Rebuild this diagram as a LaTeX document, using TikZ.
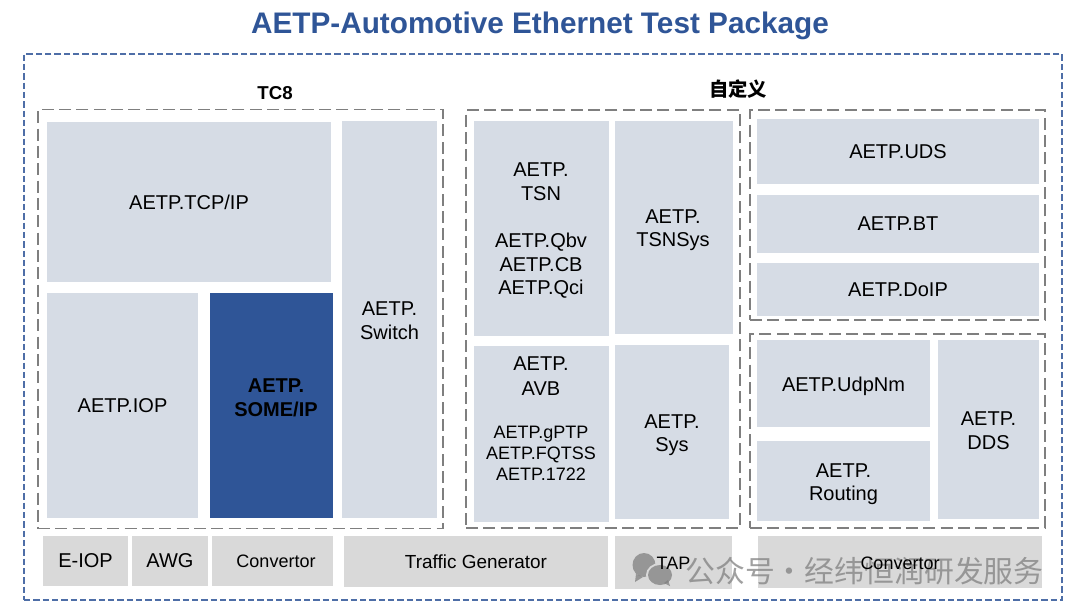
\documentclass[tikz,border=0pt]{standalone}
\usepackage{fontspec}
\setmainfont{Liberation Sans}
\newfontfamily\cjk{Noto Sans CJK SC}
\definecolor{aetpblue}{HTML}{2F5597}
\definecolor{pkgfill}{HTML}{D6DCE5}
\definecolor{hwfill}{HTML}{D9D9D9}
\definecolor{groupline}{HTML}{7F7F7F}
\tikzset{
  px/.style 2 args={minimum width=#1*0.75pt,minimum height=#2*0.75pt},
  pkg/.style={fill=pkgfill,inner sep=0pt,align=center,font=\fontsize{15}{17.7}\selectfont},
  hw/.style={fill=hwfill,inner sep=0pt,align=center,font=\fontsize{15}{17.7}\selectfont},
  boxtext/.style={align=center,inner sep=0pt,font=\fontsize{15}{17.7}\selectfont},
  group/.style={draw=groupline,line width=1.4pt,dash pattern=on 9pt off 4pt,inner sep=0pt},
  wm/.style={fill=black!50,opacity=0.75}
}
\begin{document}
\begin{tikzpicture}[x=0.75pt,y=-0.75pt]
\useasboundingbox (0,0) rectangle (1080,614);

\node[text=aetpblue,font=\fontsize{22.3}{26}\selectfont\bfseries] (title) at (540,26) {AETP-Automotive Ethernet Test Package};
\node[draw=aetpblue!85,line width=0.8pt,dash pattern=on 4.8pt off 2.2pt,inner sep=0pt,px={1038}{546}] (outer) at (543,327) {};

\node[font=\fontsize{14}{17}\selectfont\bfseries] (tc8) at (275,93) {TC8};
\node[font=\fontsize{14.5}{17}\selectfont\cjk\bfseries] (custom) at (738,89) {自定义};

\node[group,px={405}{419}] (tc8box) at (240.5,319) {};
\node[group,px={274}{418}] (midbox) at (603,319) {};
\node[group,px={295}{210}] (udsbox) at (897.5,215) {};
\node[group,px={295}{194}] (dbox) at (897.5,431) {};

\node[pkg,px={284}{160}] (tcpip) at (189,202) {AETP.TCP/IP};
\node[pkg,px={95}{397}] (switch) at (389.5,319.5) {};
\node[boxtext] (switchtext) at (389.5,320.5) {AETP.\\Switch};
\node[pkg,px={151}{225}] (iop) at (122.5,405.5) {AETP.IOP};
\node[fill=aetpblue,inner sep=0pt,px={123}{225}] (someip) at (271.5,405.5) {};
\node[font=\fontsize{15}{17.7}\selectfont\bfseries,align=center] (someiptext) at (276,398) {AETP.\\SOME/IP};

\node[pkg,px={135}{215}] (tsn) at (541.5,228.5) {};
\node[boxtext] (tsntext) at (541,231) {AETP.\\TSN\\~\\AETP.Qbv\\AETP.CB\\AETP.Qci};
\node[pkg,px={118}{213}] (tsnsys) at (674,227.5) {};
\node[boxtext] (tsnsystext) at (673,230) {AETP.\\TSNSys};
\node[pkg,px={135}{176}] (avb) at (541.5,434) {};
\node[align=center,font=\fontsize{15}{18.5}\selectfont] (avbtext) at (541,376) {AETP.\\AVB};
\node[align=center,font=\fontsize{13.5}{15.8}\selectfont] (avbsub) at (541,453) {AETP.gPTP\\AETP.FQTSS\\AETP.1722};
\node[pkg,px={114}{174}] (sys) at (672,432) {};
\node[boxtext] (systext) at (672,435) {AETP.\\Sys};

\node[pkg,px={282}{65}] (uds) at (898,151.5) {AETP.UDS};
\node[pkg,px={282}{58}] (bt) at (898,224) {AETP.BT};
\node[pkg,px={282}{53}] (doip) at (898,289.5) {AETP.DoIP};
\node[pkg,px={173}{87}] (udpnm) at (843.5,383.5) {};
\node[boxtext] (udpnmtext) at (843.5,386) {AETP.UdpNm};
\node[pkg,px={173}{80}] (routing) at (843.5,481) {};
\node[boxtext] (routingtext) at (843.5,484) {AETP.\\Routing};
\node[pkg,px={101}{179}] (dds) at (988.5,429.5) {};
\node[boxtext] (ddstext) at (988.5,431) {AETP.\\DDS};

\node[hw,px={85}{50}] (eiop) at (85.5,561) {E-IOP};
\node[hw,px={76}{50}] (awg) at (170,561) {AWG};
\node[hw,px={121}{50}] (conva) at (272.5,561) {};
\node[boxtext,font=\fontsize{13.5}{16}\selectfont] (convatext) at (276,561) {Convertor};
\node[hw,px={264}{51}] (traffic) at (476,561.5) {\fontsize{14.2}{17}\selectfont Traffic Generator};
\node[hw,px={117}{53}] (tap) at (673.5,562.5) {};
\node[hw,px={284}{52}] (convb) at (900,562) {};

% watermark
\fill[wm] (644,565) ellipse (11.5 and 12);
\fill[wm] (636,574) -- (635,582) -- (643,577) -- cycle;
\fill[hwfill] (660,575) ellipse (14 and 12);
\fill[wm] (660,575) ellipse (12 and 10);
\fill[wm] (664,583) -- (670,586) -- (668,580) -- cycle;
\node[anchor=west,inner sep=0pt,text=black!50,opacity=0.75,font=\fontsize{22.4}{26}\selectfont\cjk] (wmtext) at (685,571) {公众号·经纬恒润研发服务};

\node[boxtext,font=\fontsize{13.5}{16}\selectfont] (taptext) at (673.5,563) {TAP};
\node[boxtext,font=\fontsize{13.5}{16}\selectfont] (convbtext) at (900,563) {Convertor};
\end{tikzpicture}
\end{document}
